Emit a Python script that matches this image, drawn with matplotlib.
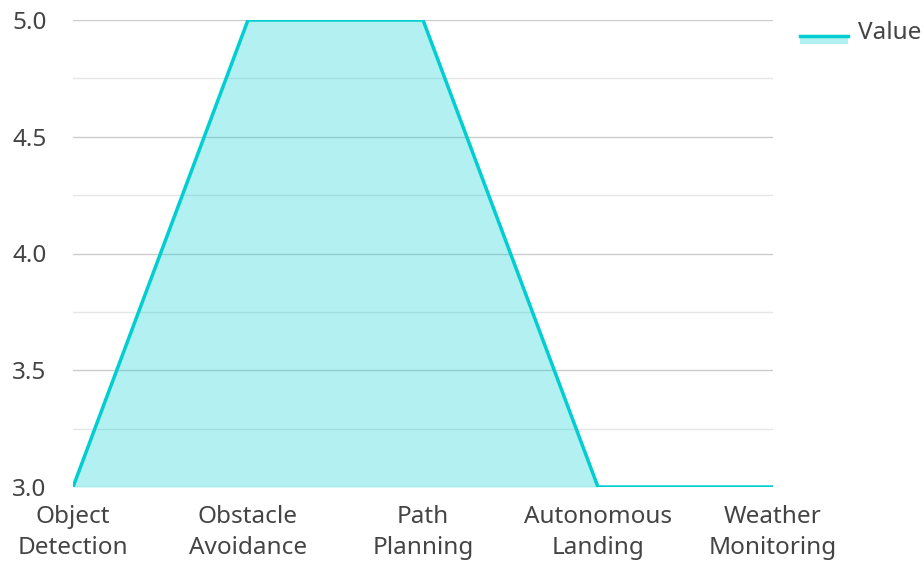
import matplotlib.pyplot as plt
from matplotlib.lines import Line2D
from matplotlib.patches import Rectangle
from matplotlib.ticker import MultipleLocator

categories = ["Object\nDetection", "Obstacle\nAvoidance", "Path\nPlanning",
              "Autonomous\nLanding", "Weather\nMonitoring"]
values = [3, 5, 5, 3, 3]
series_name = "Value"

LINE = "#00ced1"
TEXT = "#444444"
FS = 17.5

plt.rcParams["font.family"] = ["Noto Sans", "DejaVu Sans"]

fig = plt.figure(figsize=(9.23, 5.61), dpi=100)
ax = fig.add_axes([73 / 923, 1 - 487 / 561, 700 / 923, 467 / 561])

x = list(range(len(categories)))
ax.fill_between(x, 3, values, color=LINE, alpha=0.3, linewidth=0, zorder=2)
ax.plot(x, values, color=LINE, linewidth=2.5, zorder=3, solid_joinstyle="miter")

ax.set_xlim(0, len(categories) - 1)
ax.set_ylim(3, 5)
ax.yaxis.set_major_locator(MultipleLocator(0.5))
ax.yaxis.set_minor_locator(MultipleLocator(0.25))
ax.yaxis.set_major_formatter(lambda v, p: f"{v:.1f}")
ax.grid(axis="y", which="major", color="#cccccc", linewidth=1, zorder=0)
ax.grid(axis="y", which="minor", color="#e6e6e6", linewidth=1, zorder=0)
ax.grid(axis="x", visible=False)
for s in ax.spines.values():
    s.set_visible(False)

ax.set_xticks(x)
ax.set_xticklabels(categories, linespacing=1.38)
ax.tick_params(axis="x", length=0, pad=13, labelsize=FS, colors=TEXT)
ax.tick_params(axis="y", which="both", length=0, pad=19, labelsize=FS, colors=TEXT)

# legend drawn by hand: line over a light fill swatch
fig.add_artist(Rectangle((800 / 923, 1 - 44 / 561), 48 / 923, 7 / 561,
                         transform=fig.transFigure, color=LINE, alpha=0.3, lw=0))
fig.add_artist(Line2D([800 / 923, 848 / 923], [1 - 36 / 561, 1 - 36 / 561],
                      transform=fig.transFigure, color=LINE, linewidth=2.5))
fig.text(858 / 923, 1 - 33 / 561, series_name, fontsize=FS, color=TEXT,
         ha="left", va="center")

fig.savefig("out.png", dpi=100)
